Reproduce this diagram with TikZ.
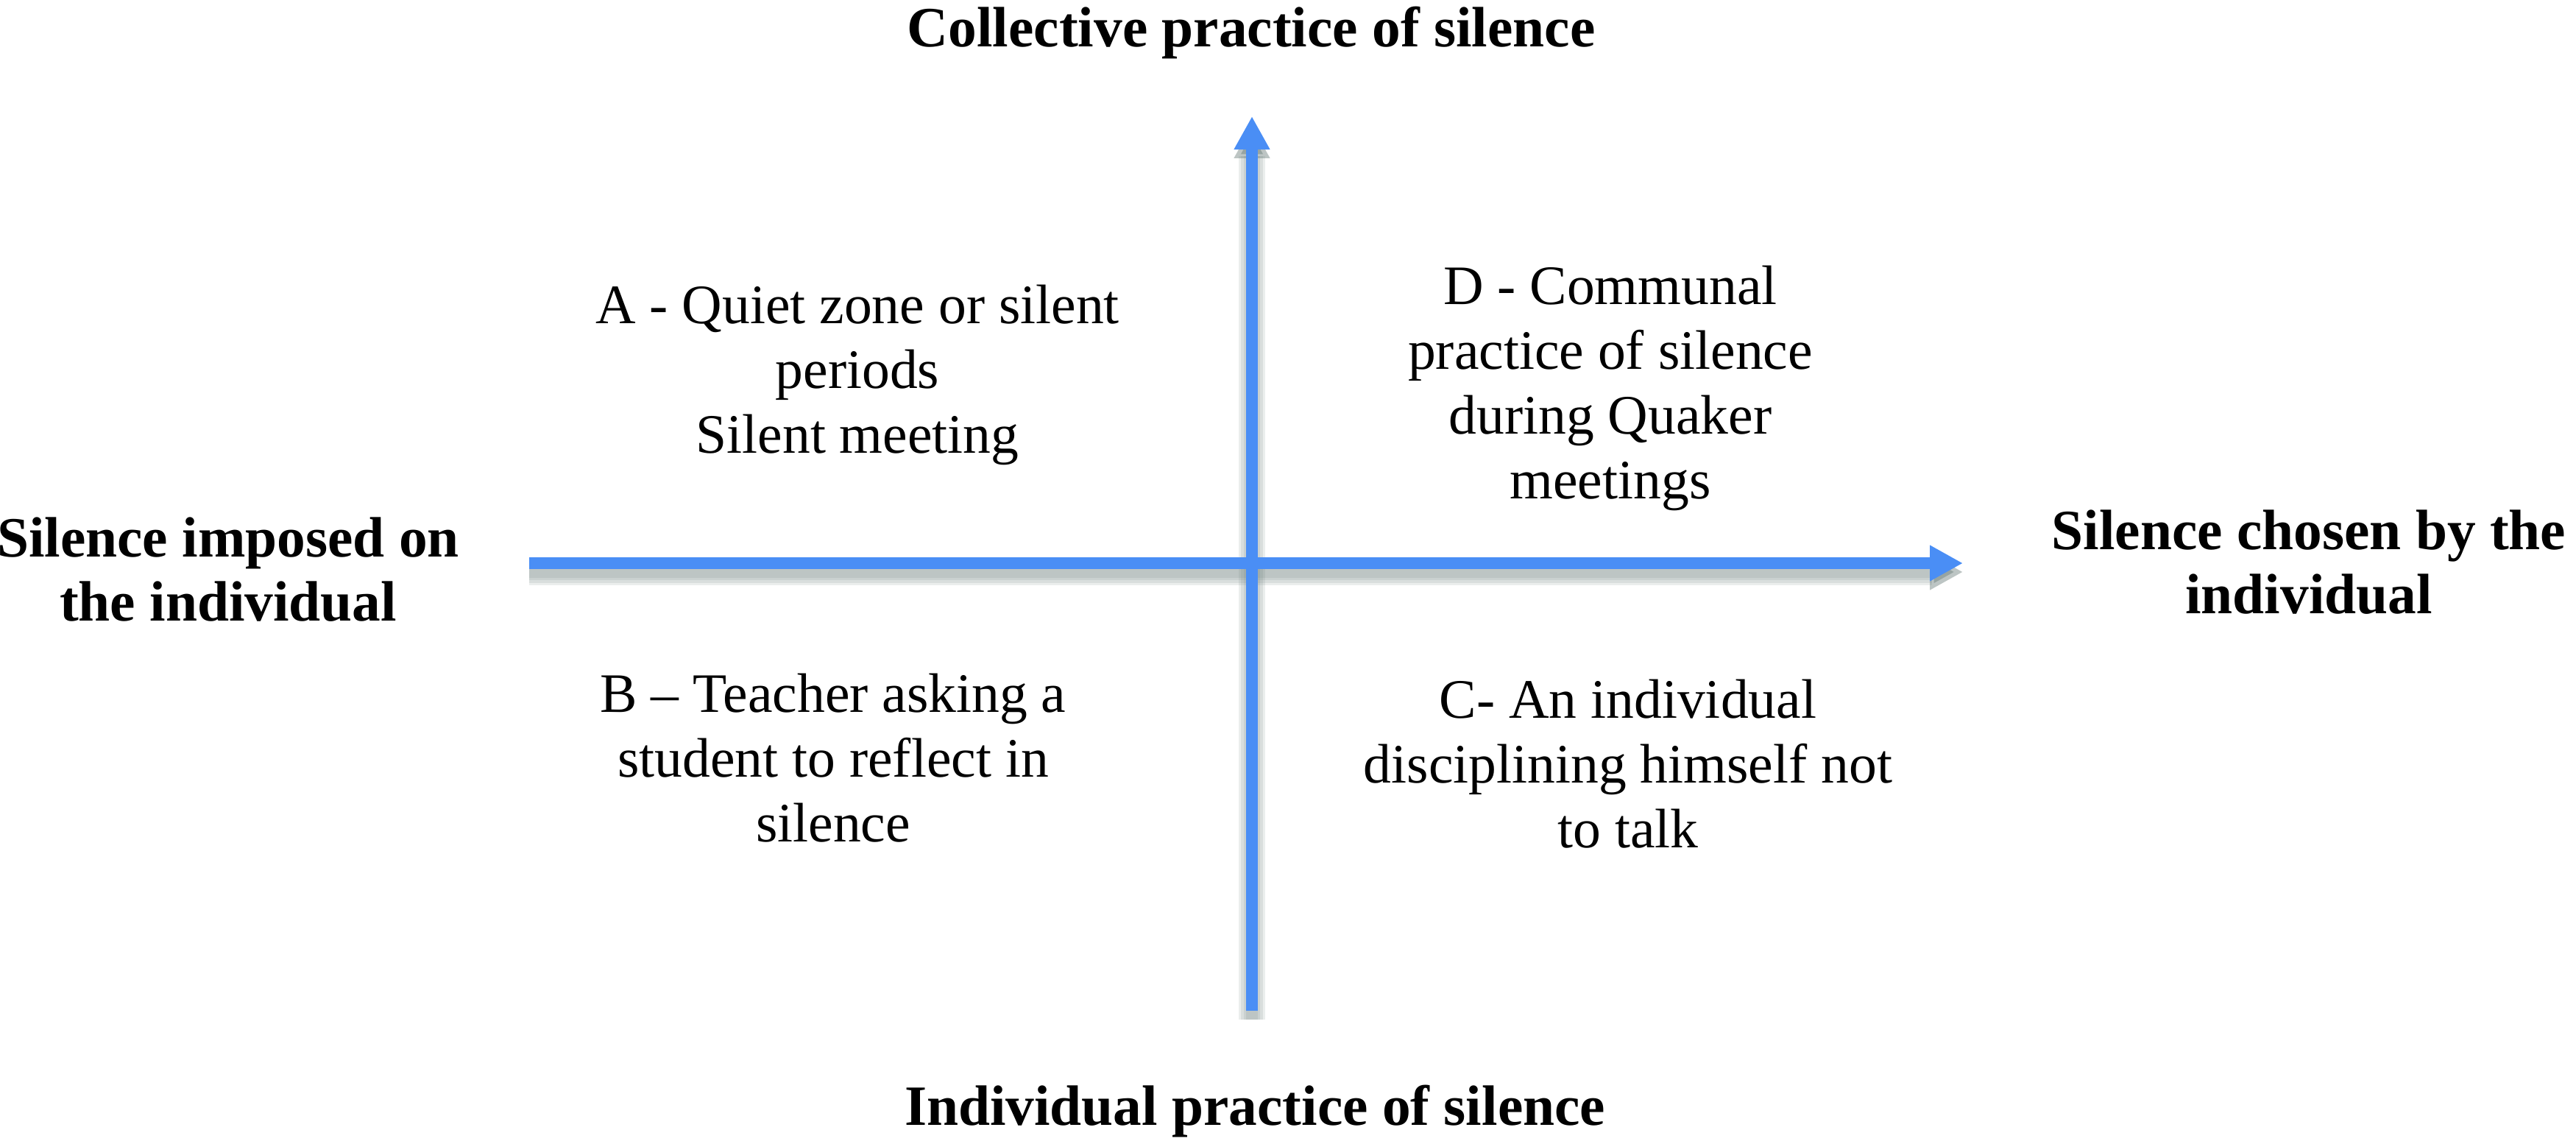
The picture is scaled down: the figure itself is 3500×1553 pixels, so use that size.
\documentclass[tikz,border=0pt]{standalone}
\usepackage{fontspec}
\setmainfont{Liberation Serif}
\usetikzlibrary{arrows.meta}

\definecolor{axisblue}{RGB}{74,142,245}
\definecolor{shadowgray}{RGB}{100,120,116}

\tikzset{
	axisarrow/.style={line width=4.4pt, axisblue, -{Triangle[length=12.8pt,width=13pt]}},
	axisshadow/.style={line width=#1, shadowgray, opacity=0.13, -{Triangle[length=12.8pt,width=13pt]}},
	poletext/.style={font=\fontsize{22}{24.5}\selectfont\bfseries, align=center, anchor=base, inner sep=0pt},
	quadtext/.style={font=\fontsize{21.5}{25}\selectfont, align=center, anchor=base, inner sep=0pt}
}

\begin{document}
\begin{tikzpicture}[x=0.01cm, y=-0.01cm]

	\useasboundingbox (0,0) rectangle (3500,1553);

	\coordinate (O) at (1701,765);
	\coordinate (west) at (719,765);
	\coordinate (east) at (2667,765);
	\coordinate (south) at (1701,1373);
	\coordinate (north) at (1701,158);

	% shadows under the axes
	\foreach \w in {4.4pt,6.5pt,8.5pt,10.5pt}{
		\draw[axisshadow=\w] ([yshift=-3.4pt]west) -- ([yshift=-3.4pt]east);
		\draw[axisshadow=\w] ([yshift=-3.4pt]south) -- ([yshift=-3.4pt]north);
	}

	% axes
	\draw[axisarrow] (west) -- (east);
	\draw[axisarrow] (south) -- (north);

	% poles (base = last line)
	\node[poletext] (collective) at (1700,63) {Collective practice of silence};
	\node[poletext] (individual) at (1705,1528) {Individual practice of silence};
	\node[poletext] (imposed) at (310,843) {Silence imposed on\\the individual};
	\node[poletext] (chosen) at (3137,833) {Silence chosen by the\\individual};

	% quadrants
	\node[quadtext] (quadA) at (1165,615) {A - Quiet zone or silent\\periods\\Silent meeting};
	\node[quadtext] (quadD) at (2188,677) {D - Communal\\practice of silence\\during Quaker\\meetings};
	\node[quadtext] (quadB) at (1132,1143) {B -- Teacher asking a\\student to reflect in\\silence};
	\node[quadtext] (quadC) at (2212,1151) {C- An individual\\disciplining himself not\\to talk};

\end{tikzpicture}
\end{document}
